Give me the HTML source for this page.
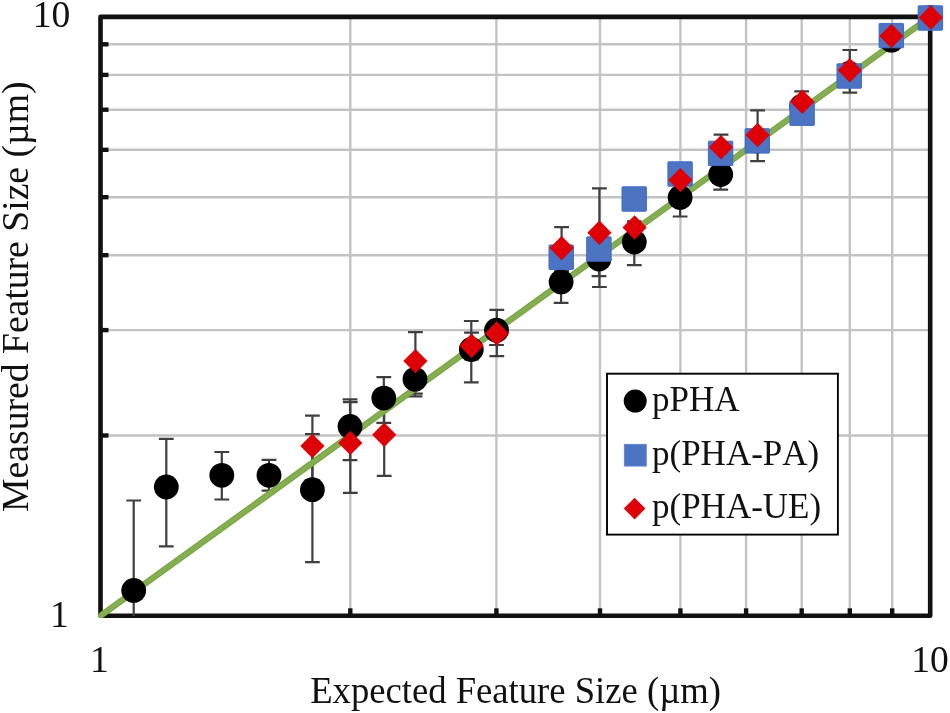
<!DOCTYPE html>
<html lang="en"><head><meta charset="utf-8"><title>Measured vs Expected Feature Size</title>
<style>html,body{margin:0;padding:0;background:#fff}svg{display:block}</style></head>
<body>
<svg width="950" height="713" viewBox="0 0 950 713">
<rect width="950" height="713" fill="#fff"/>
<g stroke="#c3c3c3" stroke-width="2.4">
<line x1="350.3" y1="16.9" x2="350.3" y2="615.8"/>
<line x1="100.5" y1="435.5" x2="930.2" y2="435.5"/>
<line x1="496.4" y1="16.9" x2="496.4" y2="615.8"/>
<line x1="100.5" y1="330.1" x2="930.2" y2="330.1"/>
<line x1="600.0" y1="16.9" x2="600.0" y2="615.8"/>
<line x1="100.5" y1="255.2" x2="930.2" y2="255.2"/>
<line x1="680.4" y1="16.9" x2="680.4" y2="615.8"/>
<line x1="100.5" y1="197.2" x2="930.2" y2="197.2"/>
<line x1="746.1" y1="16.9" x2="746.1" y2="615.8"/>
<line x1="100.5" y1="149.8" x2="930.2" y2="149.8"/>
<line x1="801.7" y1="16.9" x2="801.7" y2="615.8"/>
<line x1="100.5" y1="109.7" x2="930.2" y2="109.7"/>
<line x1="849.8" y1="16.9" x2="849.8" y2="615.8"/>
<line x1="100.5" y1="74.9" x2="930.2" y2="74.9"/>
<line x1="892.2" y1="16.9" x2="892.2" y2="615.8"/>
<line x1="100.5" y1="44.3" x2="930.2" y2="44.3"/>
</g>
<g stroke="#111" stroke-width="4.4">
<line x1="350.3" y1="615.8" x2="350.3" y2="608.3"/>
<line x1="100.5" y1="435.5" x2="108.5" y2="435.5"/>
<line x1="496.4" y1="615.8" x2="496.4" y2="608.3"/>
<line x1="100.5" y1="330.1" x2="108.5" y2="330.1"/>
<line x1="600.0" y1="615.8" x2="600.0" y2="608.3"/>
<line x1="100.5" y1="255.2" x2="108.5" y2="255.2"/>
<line x1="680.4" y1="615.8" x2="680.4" y2="608.3"/>
<line x1="100.5" y1="197.2" x2="108.5" y2="197.2"/>
<line x1="746.1" y1="615.8" x2="746.1" y2="608.3"/>
<line x1="100.5" y1="149.8" x2="108.5" y2="149.8"/>
<line x1="801.7" y1="615.8" x2="801.7" y2="608.3"/>
<line x1="100.5" y1="109.7" x2="108.5" y2="109.7"/>
<line x1="849.8" y1="615.8" x2="849.8" y2="608.3"/>
<line x1="100.5" y1="74.9" x2="108.5" y2="74.9"/>
<line x1="892.2" y1="615.8" x2="892.2" y2="608.3"/>
<line x1="100.5" y1="44.3" x2="108.5" y2="44.3"/>
</g>
<rect x="100.5" y="16.9" width="829.7" height="598.9" fill="none" stroke="#111" stroke-width="4.6" stroke-linejoin="round"/>
<g stroke="#3f3f3f" stroke-width="2.2" fill="none">
<path d="M133.7 500.5V616.0M126.3 500.5H141.1"/>
<path d="M166.3 438.9V546.3M158.9 438.9H173.7M158.9 546.3H173.7"/>
<path d="M221.8 452.0V499.5M214.4 452.0H229.2M214.4 499.5H229.2"/>
<path d="M269.0 459.8V490.7M261.6 459.8H276.4M261.6 490.7H276.4"/>
<path d="M312.4 434.2V562.1M305.0 434.2H319.8M305.0 562.1H319.8"/>
<path d="M350.0 399.4V460.1M342.6 399.4H357.4M342.6 460.1H357.4"/>
<path d="M383.8 377.1V422.8M376.4 377.1H391.2M376.4 422.8H391.2"/>
<path d="M415.0 363.3V396.3M407.6 363.3H422.4M407.6 396.3H422.4"/>
<path d="M471.3 321.0V382.4M463.9 321.0H478.7M463.9 382.4H478.7"/>
<path d="M496.5 322.0V345.0M489.1 322.0H503.9M489.1 345.0H503.9"/>
<path d="M561.1 262.4V302.9M553.7 262.4H568.5M553.7 302.9H568.5"/>
<path d="M599.0 240.0V276.2M591.6 240.0H606.4M591.6 276.2H606.4"/>
<path d="M634.3 221.4V265.2M626.9 221.4H641.7M626.9 265.2H641.7"/>
<path d="M680.1 180.0V216.5M672.7 180.0H687.5M672.7 216.5H687.5"/>
<path d="M720.7 160.0V189.6M713.3 160.0H728.1M713.3 189.6H728.1"/>
<path d="M801.6 91.4V120.0M794.2 91.4H809.0M794.2 120.0H809.0"/>
<path d="M849.3 66.0V86.0M841.9 66.0H856.7M841.9 86.0H856.7"/>
<path d="M891.4 30.0V50.0M884.0 30.0H898.8M884.0 50.0H898.8"/>
<path d="M312.4 415.7V480.5M305.0 415.7H319.8M305.0 480.5H319.8"/>
<path d="M350.3 402.1V492.8M342.9 402.1H357.7M342.9 492.8H357.7"/>
<path d="M384.2 399.3V475.9M376.8 399.3H391.6M376.8 475.9H391.6"/>
<path d="M415.4 332.1V393.6M408.0 332.1H422.8M408.0 393.6H422.8"/>
<path d="M471.5 332.7V359.3M464.1 332.7H478.9M464.1 359.3H478.9"/>
<path d="M496.8 309.9V356.2M489.4 309.9H504.2M489.4 356.2H504.2"/>
<path d="M561.6 227.1V271.2M554.2 227.1H569.0M554.2 271.2H569.0"/>
<path d="M599.4 188.3V287.0M592.0 188.3H606.8M592.0 287.0H606.8"/>
<path d="M721.0 134.6V160.0M713.6 134.6H728.4M713.6 160.0H728.4"/>
<path d="M757.6 110.4V161.1M750.2 110.4H765.0M750.2 161.1H765.0"/>
<path d="M849.8 50.0V92.7M842.4 50.0H857.2M842.4 92.7H857.2"/>
</g>
<clipPath id="pc"><rect x="98.3" y="14.7" width="834.1" height="603.3" rx="2"/></clipPath>
<g clip-path="url(#pc)" stroke-linecap="square"><line x1="100.5" y1="615.8" x2="930.2" y2="16.9" stroke="#74a43a" stroke-width="6.3"/><line x1="100.5" y1="615.8" x2="930.2" y2="16.9" stroke="#85ae52" stroke-width="4.5"/></g>
<g fill="#000">
<circle cx="133.7" cy="590.4" r="12.4"/>
<circle cx="166.3" cy="487.0" r="12.4"/>
<circle cx="221.8" cy="475.3" r="12.4"/>
<circle cx="269.0" cy="475.3" r="12.4"/>
<circle cx="312.4" cy="489.7" r="12.4"/>
<circle cx="350.0" cy="426.5" r="12.4"/>
<circle cx="383.8" cy="398.1" r="12.4"/>
<circle cx="415.0" cy="379.3" r="12.4"/>
<circle cx="471.3" cy="349.4" r="12.4"/>
<circle cx="496.5" cy="330.2" r="12.4"/>
<circle cx="561.1" cy="281.9" r="12.4"/>
<circle cx="599.0" cy="259.1" r="12.4"/>
<circle cx="634.3" cy="242.1" r="12.4"/>
<circle cx="680.1" cy="197.4" r="12.4"/>
<circle cx="720.7" cy="174.6" r="12.4"/>
<circle cx="757.4" cy="141.0" r="12.4"/>
<circle cx="801.6" cy="106.5" r="12.4"/>
<circle cx="849.3" cy="73.5" r="12.4"/>
<circle cx="891.4" cy="40.2" r="12.4"/>
<circle cx="930.2" cy="17.5" r="12.4"/>
</g>
<g fill="#4d73c3" stroke="#3f6cc6" stroke-width="1">
<rect x="549.0" y="245.0" width="24.4" height="24.4" rx="0.6"/>
<rect x="586.7" y="236.8" width="24.4" height="24.4" rx="0.6"/>
<rect x="622.0" y="186.8" width="24.4" height="24.4" rx="0.6"/>
<rect x="667.9" y="161.8" width="24.4" height="24.4" rx="0.6"/>
<rect x="708.4" y="141.2" width="24.4" height="24.4" rx="0.6"/>
<rect x="745.1" y="128.7" width="24.4" height="24.4" rx="0.6"/>
<rect x="789.9" y="101.0" width="24.4" height="24.4" rx="0.6"/>
<rect x="837.0" y="63.8" width="24.4" height="24.4" rx="0.6"/>
<rect x="879.1" y="23.4" width="24.4" height="24.4" rx="0.6"/>
<rect x="918.2" y="5.8" width="24.4" height="24.4" rx="0.6"/>
</g>
<g fill="#dd0006">
<path d="M312.4 433.8L324.5 446.0L312.4 458.2L300.3 446.0Z"/>
<path d="M350.3 430.7L362.4 442.9L350.3 455.1L338.2 442.9Z"/>
<path d="M384.2 422.6L396.3 434.8L384.2 447.0L372.1 434.8Z"/>
<path d="M415.4 348.9L427.5 361.1L415.4 373.3L403.3 361.1Z"/>
<path d="M471.5 333.5L483.6 345.7L471.5 357.9L459.4 345.7Z"/>
<path d="M496.8 321.2L508.9 333.4L496.8 345.6L484.7 333.4Z"/>
<path d="M561.6 235.9L573.7 248.1L561.6 260.3L549.5 248.1Z"/>
<path d="M599.4 220.6L611.5 232.8L599.4 245.0L587.3 232.8Z"/>
<path d="M634.6 215.3L646.7 227.5L634.6 239.7L622.5 227.5Z"/>
<path d="M680.4 167.9L692.5 180.1L680.4 192.3L668.3 180.1Z"/>
<path d="M721.0 135.0L733.1 147.2L721.0 159.4L708.9 147.2Z"/>
<path d="M757.6 122.8L769.7 135.0L757.6 147.2L745.5 135.0Z"/>
<path d="M802.3 89.5L814.4 101.7L802.3 113.9L790.2 101.7Z"/>
<path d="M849.8 58.0L861.9 70.2L849.8 82.4L837.7 70.2Z"/>
<path d="M891.4 23.9L903.5 36.1L891.4 48.3L879.3 36.1Z"/>
<path d="M930.8 5.3L942.9 17.5L930.8 29.7L918.7 17.5Z"/>
</g>
<rect x="607" y="373.7" width="230.9" height="160.9" fill="#fff" stroke="#000" stroke-width="1.9"/>
<circle cx="635.2" cy="401.1" r="11.5" fill="#000"/>
<rect x="624.3" y="444.3" width="22" height="21.8" fill="#4d73c3" stroke="#5b84d2" stroke-width="0.8"/>
<path d="M634.6 497.8L645.4 508.6L634.6 519.4L623.8 508.6Z" fill="#dd0006"/>
<g font-family="'Liberation Serif', 'Times New Roman', serif" fill="#111" style="font-kerning:none">
<text x="652" y="410.6" font-size="35">pPHA</text>
<text x="652" y="464.5" font-size="35">p(PHA-PA)</text>
<text x="652" y="518.2" font-size="35">p(PHA-UE)</text>
<text x="51.6" y="27.3" font-size="37.5" text-anchor="middle">10</text>
<text x="59.4" y="626.7" font-size="37.5" text-anchor="middle">1</text>
<text x="99.3" y="671.9" font-size="37.5" text-anchor="middle">1</text>
<text x="911.3" y="672" font-size="37.5">10</text>
<text x="310.2" y="702.6" font-size="37.4" textLength="410.8" lengthAdjust="spacingAndGlyphs">Expected Feature Size (µm)</text>
<text transform="translate(28 511.9) rotate(-90)" font-size="37.3" textLength="430.4" lengthAdjust="spacingAndGlyphs">Measured Feature Size (µm)</text>
</g>
</svg>
</body></html>
